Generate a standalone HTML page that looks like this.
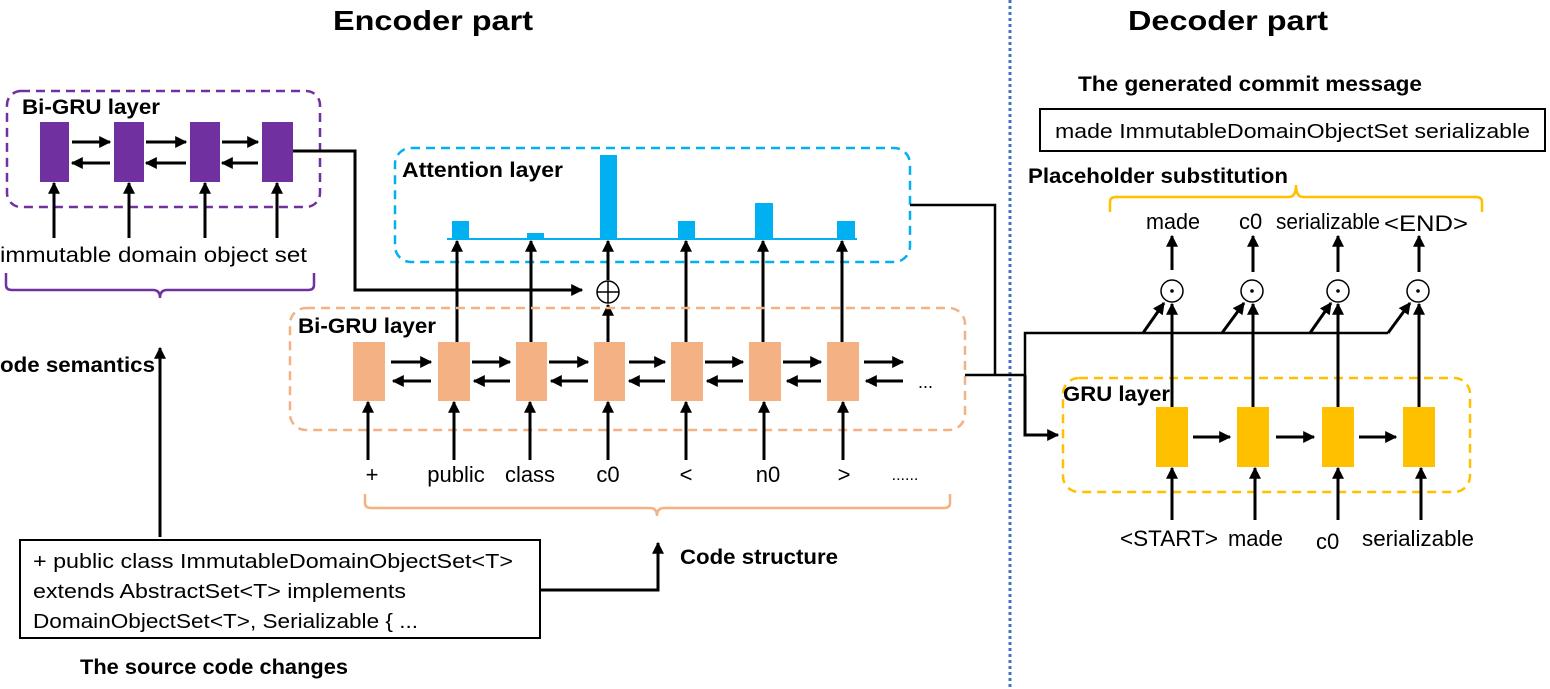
<!DOCTYPE html>
<html><head><meta charset="utf-8"><style>
html,body{margin:0;padding:0;background:#fff;}
svg{display:block;font-family:"Liberation Sans",sans-serif;}
.b{font-weight:bold;}
</style></head><body>
<svg width="1550" height="689" viewBox="0 0 1550 689" xmlns="http://www.w3.org/2000/svg">
<defs>
<marker id="a" viewBox="0 0 10 10" refX="9" refY="5" markerWidth="4" markerHeight="4" orient="auto-start-reverse"><path d="M0,0L10,5L0,10z" fill="#000"/></marker>
</defs>
<g fill="#000">
<text x="333" y="30" font-size="28" class="b" textLength="200" lengthAdjust="spacingAndGlyphs">Encoder part</text>
<text x="1128" y="30" font-size="28" class="b" textLength="200" lengthAdjust="spacingAndGlyphs">Decoder part</text>
</g>
<line x1="1010" y1="0" x2="1010" y2="689" stroke="#4472c4" stroke-width="3" stroke-dasharray="3,3"/>

<rect x="7" y="91" width="313" height="116" rx="14" fill="none" stroke="#7030a0" stroke-width="2.5" stroke-dasharray="9,6"/>
<text x="22" y="114" font-size="21" class="b" textLength="138" lengthAdjust="spacingAndGlyphs">Bi-GRU layer</text>
<g fill="#7030a0">
<rect x="40" y="122" width="29" height="60"/><rect x="114" y="122" width="30" height="60"/><rect x="190" y="122" width="30" height="60"/><rect x="262" y="122" width="31" height="60"/>
</g>
<g stroke="#000" stroke-width="3" marker-end="url(#a)">
<line x1="72" y1="142" x2="110" y2="142"/><line x1="146" y1="142" x2="186" y2="142"/><line x1="222" y1="142" x2="258" y2="142"/>
<line x1="110" y1="163" x2="72" y2="163"/><line x1="186" y1="163" x2="146" y2="163"/><line x1="258" y1="163" x2="222" y2="163"/>
<line x1="54" y1="238" x2="54" y2="183"/><line x1="129" y1="238" x2="129" y2="183"/><line x1="205" y1="238" x2="205" y2="183"/><line x1="277" y1="238" x2="277" y2="183"/>
</g>
<text x="0" y="262" font-size="21" textLength="307" lengthAdjust="spacingAndGlyphs">immutable domain object  set</text>
<path d="M6,273 V285 Q6,290 12,290 H153 Q160,290 160,298 Q160,290 167,290 H308 Q314,290 314,285 V273" fill="none" stroke="#7030a0" stroke-width="2.5"/>
<text x="0" y="372" font-size="21" class="b" textLength="155" lengthAdjust="spacingAndGlyphs">ode semantics</text>
<line x1="160" y1="537" x2="160" y2="348" stroke="#000" stroke-width="3" marker-end="url(#a)"/>

<polyline points="293,151 355,151 355,290 582,290" fill="none" stroke="#000" stroke-width="3" marker-end="url(#a)"/>
<circle cx="608" cy="292" r="11" fill="#fff" stroke="#000" stroke-width="1.5"/>
<line x1="597" y1="292" x2="619" y2="292" stroke="#000" stroke-width="1.5"/><line x1="608" y1="281" x2="608" y2="303" stroke="#000" stroke-width="1.5"/>

<rect x="395" y="148" width="515" height="114" rx="16" fill="none" stroke="#00b0f0" stroke-width="2.5" stroke-dasharray="9,6"/>
<text x="402" y="177" font-size="21" class="b" textLength="161" lengthAdjust="spacingAndGlyphs">Attention layer</text>
<g fill="#00b0f0">
<rect x="452" y="221" width="17" height="18"/><rect x="527" y="233" width="17" height="6"/><rect x="600" y="155" width="17" height="84"/><rect x="678" y="221" width="17" height="18"/><rect x="755" y="203" width="18" height="36"/><rect x="837" y="221" width="18" height="18"/>
</g>
<line x1="447" y1="239" x2="857" y2="239" stroke="#00b0f0" stroke-width="2"/>
<g stroke="#000" stroke-width="3" marker-end="url(#a)">
<line x1="457" y1="342" x2="457" y2="241"/><line x1="531" y1="342" x2="531" y2="241"/><line x1="686" y1="342" x2="686" y2="241"/><line x1="763" y1="342" x2="763" y2="241"/><line x1="842" y1="342" x2="842" y2="241"/>
<line x1="608" y1="280" x2="608" y2="241"/><line x1="608" y1="342" x2="608" y2="305"/>
</g>

<rect x="290" y="308" width="675" height="122" rx="16" fill="none" stroke="#f4b183" stroke-width="2.5" stroke-dasharray="9,6"/>
<text x="298" y="333" font-size="21" class="b" textLength="138" lengthAdjust="spacingAndGlyphs">Bi-GRU layer</text>
<g fill="#f4b183">
<rect x="353" y="342" width="32" height="59"/><rect x="438" y="342" width="32" height="59"/><rect x="516" y="342" width="31" height="59"/><rect x="594" y="342" width="31" height="59"/><rect x="671" y="342" width="32" height="59"/><rect x="749" y="342" width="32" height="59"/><rect x="827" y="342" width="32" height="59"/>
</g>
<g stroke="#000" stroke-width="3" marker-end="url(#a)">
<line x1="391" y1="362" x2="431" y2="362"/><line x1="472" y1="362" x2="510" y2="362"/><line x1="549" y1="362" x2="588" y2="362"/><line x1="629" y1="362" x2="665" y2="362"/><line x1="705" y1="362" x2="743" y2="362"/><line x1="783" y1="362" x2="821" y2="362"/><line x1="864" y1="362" x2="903" y2="362"/>
<line x1="431" y1="381" x2="393" y2="381"/><line x1="510" y1="381" x2="474" y2="381"/><line x1="588" y1="381" x2="551" y2="381"/><line x1="665" y1="381" x2="629" y2="381"/><line x1="743" y1="381" x2="707" y2="381"/><line x1="821" y1="381" x2="787" y2="381"/><line x1="903" y1="381" x2="866" y2="381"/>
<line x1="368" y1="460" x2="368" y2="402"/><line x1="454" y1="460" x2="454" y2="402"/><line x1="530" y1="460" x2="530" y2="402"/><line x1="608" y1="460" x2="608" y2="402"/><line x1="686" y1="460" x2="686" y2="402"/><line x1="764" y1="460" x2="764" y2="402"/><line x1="843" y1="460" x2="843" y2="402"/>
</g>
<text x="918" y="388" font-size="18">...</text>
<g font-size="22" text-anchor="middle">
<text x="372" y="482">+</text><text x="456" y="482">public</text><text x="530" y="482">class</text><text x="608" y="482">c0</text><text x="686" y="482">&lt;</text><text x="768" y="482">n0</text><text x="844" y="482">&gt;</text><text x="905" y="480" font-size="16">......</text>
</g>
<path d="M365,494 V503 Q365,508 371,508 H650 Q657,508 657,516 Q657,508 664,508 H944 Q950,508 950,503 V494" fill="none" stroke="#f4b183" stroke-width="2.5"/>

<polyline points="910,205 995,205 995,375" fill="none" stroke="#000" stroke-width="2.5"/>
<line x1="965" y1="375" x2="1025" y2="375" stroke="#000" stroke-width="2.5"/>

<rect x="20" y="540" width="520" height="98" fill="#fff" stroke="#000" stroke-width="2"/>
<g font-size="20">
<text x="33" y="568" textLength="480" lengthAdjust="spacingAndGlyphs">+ public class ImmutableDomainObjectSet&lt;T&gt;</text>
<text x="33" y="598" textLength="373" lengthAdjust="spacingAndGlyphs">extends AbstractSet&lt;T&gt; implements</text>
<text x="33" y="628" textLength="385" lengthAdjust="spacingAndGlyphs">DomainObjectSet&lt;T&gt;, Serializable { ...</text>
</g>
<polyline points="540,590 658,590 658,543" fill="none" stroke="#000" stroke-width="3" marker-end="url(#a)"/>
<text x="680" y="564" font-size="21" class="b" textLength="158" lengthAdjust="spacingAndGlyphs">Code structure</text>
<text x="80" y="674" font-size="21" class="b" textLength="268" lengthAdjust="spacingAndGlyphs">The source code changes</text>

<text x="1078" y="91" font-size="21" class="b" textLength="344" lengthAdjust="spacingAndGlyphs">The generated commit message</text>
<rect x="1040" y="109" width="505" height="42" fill="#fff" stroke="#000" stroke-width="2"/>
<text x="1055" y="138" font-size="20" textLength="475" lengthAdjust="spacingAndGlyphs">made ImmutableDomainObjectSet serializable</text>
<text x="1028" y="183" font-size="21" class="b" textLength="260" lengthAdjust="spacingAndGlyphs">Placeholder substitution</text>
<path d="M1110,212 V202 Q1110,197 1116,197 H1289 Q1296,197 1296,185 Q1296,197 1303,197 H1476 Q1482,197 1482,202 V212" fill="none" stroke="#ffc000" stroke-width="2.5"/>
<g font-size="22">
<text x="1146" y="229" textLength="54" lengthAdjust="spacingAndGlyphs">made</text><text x="1239" y="229">c0</text><text x="1276" y="229" textLength="104" lengthAdjust="spacingAndGlyphs">serializable</text><text x="1384" y="231" textLength="84" lengthAdjust="spacingAndGlyphs">&lt;END&gt;</text>
</g>
<rect x="1063" y="378" width="407" height="114" rx="16" fill="none" stroke="#ffc000" stroke-width="2.5" stroke-dasharray="9,6"/>
<text x="1063" y="401" font-size="21" class="b" textLength="107" lengthAdjust="spacingAndGlyphs">GRU layer</text>
<g fill="#ffc000">
<rect x="1156" y="407" width="32" height="60"/><rect x="1237" y="407" width="32" height="60"/><rect x="1322" y="407" width="32" height="60"/><rect x="1403" y="407" width="32" height="60"/>
</g>
<polyline points="1025,375 1025,333 1388,333" fill="none" stroke="#000" stroke-width="2.5"/>
<polyline points="1025,375 1025,435 1058,435" fill="none" stroke="#000" stroke-width="3" marker-end="url(#a)"/>
<g stroke="#000" stroke-width="3" marker-end="url(#a)">
<line x1="1143" y1="333" x2="1164" y2="303"/><line x1="1222" y1="333" x2="1244" y2="303"/><line x1="1310" y1="333" x2="1331" y2="303"/><line x1="1388" y1="333" x2="1410" y2="303"/>
<line x1="1172" y1="407" x2="1172" y2="304"/><line x1="1253" y1="407" x2="1253" y2="304"/><line x1="1338" y1="407" x2="1338" y2="304"/><line x1="1419" y1="407" x2="1419" y2="304"/>
<line x1="1172" y1="270" x2="1172" y2="236"/><line x1="1253" y1="272" x2="1253" y2="236"/><line x1="1338" y1="272" x2="1338" y2="236"/><line x1="1419" y1="272" x2="1419" y2="236"/>
<line x1="1193" y1="437" x2="1230" y2="437"/><line x1="1276" y1="437" x2="1314" y2="437"/><line x1="1359" y1="437" x2="1396" y2="437"/>
<line x1="1172" y1="520" x2="1172" y2="468"/><line x1="1255" y1="520" x2="1255" y2="468"/><line x1="1338" y1="520" x2="1338" y2="468"/><line x1="1421" y1="520" x2="1421" y2="468"/>
</g>
<g fill="#fff" stroke="#000" stroke-width="1.5">
<circle cx="1172" cy="291" r="11"/><circle cx="1252" cy="291" r="11"/><circle cx="1338" cy="291" r="11"/><circle cx="1418" cy="291" r="11"/>
</g>
<g fill="#000"><circle cx="1172" cy="291" r="1.8"/><circle cx="1252" cy="291" r="1.8"/><circle cx="1338" cy="291" r="1.8"/><circle cx="1418" cy="291" r="1.8"/></g>
<g font-size="22">
<text x="1120" y="546" textLength="98" lengthAdjust="spacingAndGlyphs">&lt;START&gt;</text><text x="1228" y="546" textLength="55" lengthAdjust="spacingAndGlyphs">made</text><text x="1316" y="549">c0</text><text x="1362" y="546" textLength="112" lengthAdjust="spacingAndGlyphs">serializable</text>
</g>
</svg>
</body></html>
